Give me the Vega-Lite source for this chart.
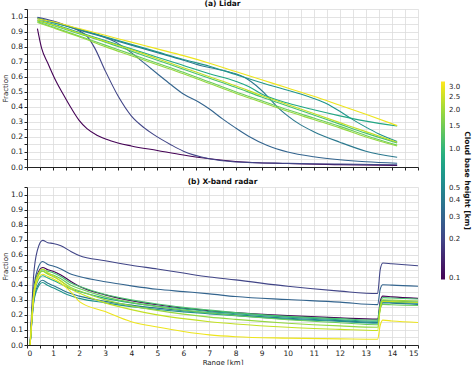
{
  "$schema": "https://vega.github.io/schema/vega-lite/v6.json",
  "padding": {"left": 1, "top": 0, "right": 0, "bottom": 0},
  "config": {
    "font": "DejaVu Sans",
    "view": {"stroke": null},
    "axis": {"labelFontSize": 7.5, "titleFontSize": 7, "titleFontWeight": "normal", "labelColor": "#222", "titleColor": "#222", "tickColor": "#222", "domainColor": "#222", "gridColor": "#dcdcdc", "gridWidth": 0.8, "tickSize": 3, "labelPadding": 1.5},
    "title": {"fontSize": 7.5, "fontWeight": "bold", "anchor": "middle", "offset": 1, "color": "#111"},
    "line": {"strokeWidth": 1.1, "interpolate": "monotone"}
  },
  "datasets": {
    "lidar": [
      {"h":0.1,"r":0.4,"f":0.92},{"h":0.1,"r":0.56,"f":0.79},{"h":0.1,"r":0.8,"f":0.69},{"h":0.1,"r":1.1,"f":0.575},{"h":0.1,"r":1.4,"f":0.48},{"h":0.1,"r":1.7,"f":0.39},{"h":0.1,"r":2.0,"f":0.31},{"h":0.1,"r":2.3,"f":0.255},{"h":0.1,"r":2.7,"f":0.21},{"h":0.1,"r":3.2,"f":0.175},{"h":0.1,"r":4,"f":0.14},{"h":0.1,"r":5,"f":0.11},{"h":0.1,"r":6,"f":0.08},{"h":0.1,"r":7,"f":0.055},{"h":0.1,"r":8,"f":0.037},{"h":0.1,"r":10,"f":0.023},{"h":0.1,"r":12,"f":0.016},{"h":0.1,"r":14.2,"f":0.01},
      {"h":0.2,"r":0.4,"f":0.995},{"h":0.2,"r":1,"f":0.97},{"h":0.2,"r":1.5,"f":0.94},{"h":0.2,"r":2,"f":0.905},{"h":0.2,"r":2.3,"f":0.87},{"h":0.2,"r":2.6,"f":0.79},{"h":0.2,"r":3,"f":0.64},{"h":0.2,"r":3.5,"f":0.47},{"h":0.2,"r":4,"f":0.34},{"h":0.2,"r":4.5,"f":0.26},{"h":0.2,"r":5,"f":0.2},{"h":0.2,"r":5.5,"f":0.15},{"h":0.2,"r":6,"f":0.105},{"h":0.2,"r":7,"f":0.055},{"h":0.2,"r":8,"f":0.033},{"h":0.2,"r":10,"f":0.024},{"h":0.2,"r":12,"f":0.019},{"h":0.2,"r":14.2,"f":0.015},
      {"h":0.3,"r":0.4,"f":0.99},{"h":0.3,"r":1,"f":0.965},{"h":0.3,"r":2,"f":0.915},{"h":0.3,"r":3,"f":0.86},{"h":0.3,"r":3.5,"f":0.82},{"h":0.3,"r":4,"f":0.76},{"h":0.3,"r":4.5,"f":0.69},{"h":0.3,"r":5,"f":0.62},{"h":0.3,"r":5.5,"f":0.55},{"h":0.3,"r":6,"f":0.485},{"h":0.3,"r":6.6,"f":0.43},{"h":0.3,"r":7,"f":0.385},{"h":0.3,"r":7.5,"f":0.32},{"h":0.3,"r":8,"f":0.26},{"h":0.3,"r":8.5,"f":0.205},{"h":0.3,"r":9.2,"f":0.145},{"h":0.3,"r":10,"f":0.1},{"h":0.3,"r":11,"f":0.068},{"h":0.3,"r":12,"f":0.048},{"h":0.3,"r":13,"f":0.035},{"h":0.3,"r":14.2,"f":0.025},
      {"h":0.4,"r":0.4,"f":0.985},{"h":0.4,"r":1,"f":0.96},{"h":0.4,"r":2,"f":0.91},{"h":0.4,"r":3,"f":0.86},{"h":0.4,"r":4,"f":0.81},{"h":0.4,"r":5,"f":0.76},{"h":0.4,"r":6,"f":0.71},{"h":0.4,"r":6.65,"f":0.675},{"h":0.4,"r":7.3,"f":0.65},{"h":0.4,"r":7.9,"f":0.625},{"h":0.4,"r":8.4,"f":0.59},{"h":0.4,"r":8.8,"f":0.54},{"h":0.4,"r":9.2,"f":0.475},{"h":0.4,"r":9.6,"f":0.4},{"h":0.4,"r":10,"f":0.34},{"h":0.4,"r":10.5,"f":0.28},{"h":0.4,"r":11,"f":0.235},{"h":0.4,"r":12,"f":0.165},{"h":0.4,"r":13,"f":0.105},{"h":0.4,"r":14.2,"f":0.065},
      {"h":0.6,"r":0.4,"f":0.99},{"h":0.6,"r":1,"f":0.96},{"h":0.6,"r":2,"f":0.915},{"h":0.6,"r":3,"f":0.865},{"h":0.6,"r":4,"f":0.815},{"h":0.6,"r":5,"f":0.765},{"h":0.6,"r":6,"f":0.715},{"h":0.6,"r":7,"f":0.67},{"h":0.6,"r":8,"f":0.615},{"h":0.6,"r":9,"f":0.56},{"h":0.6,"r":10,"f":0.51},{"h":0.6,"r":10.5,"f":0.485},{"h":0.6,"r":11,"f":0.455},{"h":0.6,"r":11.5,"f":0.42},{"h":0.6,"r":12,"f":0.37},{"h":0.6,"r":12.5,"f":0.315},{"h":0.6,"r":13,"f":0.265},{"h":0.6,"r":13.5,"f":0.22},{"h":0.6,"r":14.2,"f":0.17},
      {"h":0.8,"r":0.4,"f":0.975},{"h":0.8,"r":1,"f":0.95},{"h":0.8,"r":2,"f":0.895},{"h":0.8,"r":3,"f":0.84},{"h":0.8,"r":4,"f":0.785},{"h":0.8,"r":5,"f":0.73},{"h":0.8,"r":6,"f":0.675},{"h":0.8,"r":7,"f":0.62},{"h":0.8,"r":8,"f":0.57},{"h":0.8,"r":8.5,"f":0.535},{"h":0.8,"r":9,"f":0.485},{"h":0.8,"r":10,"f":0.425},{"h":0.8,"r":11,"f":0.38},{"h":0.8,"r":12,"f":0.34},{"h":0.8,"r":13,"f":0.305},{"h":0.8,"r":14.2,"f":0.272},
      {"h":1.2,"r":0.4,"f":0.97},{"h":1.2,"r":1,"f":0.94},{"h":1.2,"r":2,"f":0.885},{"h":1.2,"r":3,"f":0.83},{"h":1.2,"r":4,"f":0.77},{"h":1.2,"r":5,"f":0.71},{"h":1.2,"r":6,"f":0.65},{"h":1.2,"r":7,"f":0.59},{"h":1.2,"r":8,"f":0.53},{"h":1.2,"r":9,"f":0.465},{"h":1.2,"r":10,"f":0.405},{"h":1.2,"r":11,"f":0.345},{"h":1.2,"r":12,"f":0.285},{"h":1.2,"r":13,"f":0.225},{"h":1.2,"r":14.2,"f":0.16},
      {"h":1.5,"r":0.4,"f":0.965},{"h":1.5,"r":1,"f":0.93},{"h":1.5,"r":2,"f":0.87},{"h":1.5,"r":3,"f":0.81},{"h":1.5,"r":4,"f":0.75},{"h":1.5,"r":5,"f":0.69},{"h":1.5,"r":6,"f":0.63},{"h":1.5,"r":7,"f":0.565},{"h":1.5,"r":8,"f":0.5},{"h":1.5,"r":9,"f":0.44},{"h":1.5,"r":10,"f":0.38},{"h":1.5,"r":11,"f":0.325},{"h":1.5,"r":12,"f":0.27},{"h":1.5,"r":13,"f":0.21},{"h":1.5,"r":14.2,"f":0.145},
      {"h":1.9,"r":0.4,"f":0.96},{"h":1.9,"r":1,"f":0.925},{"h":1.9,"r":2,"f":0.865},{"h":1.9,"r":3,"f":0.8},{"h":1.9,"r":4,"f":0.74},{"h":1.9,"r":5,"f":0.68},{"h":1.9,"r":6,"f":0.62},{"h":1.9,"r":7,"f":0.555},{"h":1.9,"r":8,"f":0.49},{"h":1.9,"r":9,"f":0.43},{"h":1.9,"r":10,"f":0.37},{"h":1.9,"r":11,"f":0.315},{"h":1.9,"r":12,"f":0.26},{"h":1.9,"r":13,"f":0.2},{"h":1.9,"r":14.2,"f":0.14},
      {"h":2.4,"r":0.4,"f":0.975},{"h":2.4,"r":1,"f":0.945},{"h":2.4,"r":2,"f":0.89},{"h":2.4,"r":3,"f":0.835},{"h":2.4,"r":4,"f":0.78},{"h":2.4,"r":5,"f":0.72},{"h":2.4,"r":6,"f":0.66},{"h":2.4,"r":7,"f":0.6},{"h":2.4,"r":8,"f":0.54},{"h":2.4,"r":9,"f":0.475},{"h":2.4,"r":10,"f":0.415},{"h":2.4,"r":11,"f":0.355},{"h":2.4,"r":12,"f":0.295},{"h":2.4,"r":13,"f":0.235},{"h":2.4,"r":14.2,"f":0.165},
      {"h":3.0,"r":0.4,"f":0.985},{"h":3.0,"r":1,"f":0.965},{"h":3.0,"r":2,"f":0.92},{"h":3.0,"r":3,"f":0.875},{"h":3.0,"r":4,"f":0.83},{"h":3.0,"r":5,"f":0.785},{"h":3.0,"r":6,"f":0.74},{"h":3.0,"r":7,"f":0.69},{"h":3.0,"r":8,"f":0.635},{"h":3.0,"r":9,"f":0.58},{"h":3.0,"r":10,"f":0.525},{"h":3.0,"r":11,"f":0.47},{"h":3.0,"r":12,"f":0.41},{"h":3.0,"r":13,"f":0.35},{"h":3.0,"r":14.2,"f":0.275}
    ],
    "radar": [
      {"h":0.2,"r":0.12,"f":0},{"h":0.2,"r":0.25,"f":0.45},{"h":0.2,"r":0.4,"f":0.63},{"h":0.2,"r":0.6,"f":0.695},{"h":0.2,"r":0.8,"f":0.68},{"h":0.2,"r":1.0,"f":0.675},{"h":0.2,"r":1.3,"f":0.66},{"h":0.2,"r":1.7,"f":0.62},{"h":0.2,"r":2,"f":0.595},{"h":0.2,"r":3,"f":0.56},{"h":0.2,"r":4,"f":0.53},{"h":0.2,"r":5,"f":0.505},{"h":0.2,"r":6,"f":0.478},{"h":0.2,"r":7,"f":0.452},{"h":0.2,"r":8,"f":0.433},{"h":0.2,"r":10,"f":0.39},{"h":0.2,"r":12,"f":0.358},{"h":0.2,"r":13.45,"f":0.342},{"h":0.2,"r":13.55,"f":0.5},{"h":0.2,"r":13.65,"f":0.545},{"h":0.2,"r":14,"f":0.54},{"h":0.2,"r":15,"f":0.527},
      {"h":0.3,"r":0.12,"f":0},{"h":0.3,"r":0.25,"f":0.36},{"h":0.3,"r":0.4,"f":0.5},{"h":0.3,"r":0.6,"f":0.555},{"h":0.3,"r":0.8,"f":0.535},{"h":0.3,"r":1.0,"f":0.525},{"h":0.3,"r":1.3,"f":0.505},{"h":0.3,"r":1.7,"f":0.47},{"h":0.3,"r":2,"f":0.455},{"h":0.3,"r":3,"f":0.42},{"h":0.3,"r":4,"f":0.393},{"h":0.3,"r":5,"f":0.37},{"h":0.3,"r":6,"f":0.355},{"h":0.3,"r":7,"f":0.34},{"h":0.3,"r":8,"f":0.322},{"h":0.3,"r":10,"f":0.302},{"h":0.3,"r":12,"f":0.285},{"h":0.3,"r":13.45,"f":0.268},{"h":0.3,"r":13.55,"f":0.37},{"h":0.3,"r":13.65,"f":0.4},{"h":0.3,"r":14,"f":0.398},{"h":0.3,"r":15,"f":0.39},
      {"h":0.1,"r":0.12,"f":0},{"h":0.1,"r":0.25,"f":0.33},{"h":0.1,"r":0.4,"f":0.47},{"h":0.1,"r":0.6,"f":0.515},{"h":0.1,"r":0.8,"f":0.5},{"h":0.1,"r":1.0,"f":0.49},{"h":0.1,"r":1.3,"f":0.465},{"h":0.1,"r":1.7,"f":0.42},{"h":0.1,"r":2,"f":0.39},{"h":0.1,"r":3,"f":0.333},{"h":0.1,"r":4,"f":0.295},{"h":0.1,"r":5,"f":0.267},{"h":0.1,"r":6,"f":0.245},{"h":0.1,"r":7,"f":0.228},{"h":0.1,"r":8,"f":0.215},{"h":0.1,"r":10,"f":0.195},{"h":0.1,"r":12,"f":0.18},{"h":0.1,"r":13.45,"f":0.172},{"h":0.1,"r":13.55,"f":0.29},{"h":0.1,"r":13.65,"f":0.325},{"h":0.1,"r":14,"f":0.32},{"h":0.1,"r":15,"f":0.31},
      {"h":0.4,"r":0.12,"f":0},{"h":0.4,"r":0.25,"f":0.28},{"h":0.4,"r":0.4,"f":0.39},{"h":0.4,"r":0.6,"f":0.43},{"h":0.4,"r":0.8,"f":0.41},{"h":0.4,"r":1.0,"f":0.395},{"h":0.4,"r":1.3,"f":0.37},{"h":0.4,"r":1.7,"f":0.34},{"h":0.4,"r":2,"f":0.325},{"h":0.4,"r":3,"f":0.29},{"h":0.4,"r":4,"f":0.265},{"h":0.4,"r":5,"f":0.245},{"h":0.4,"r":6,"f":0.228},{"h":0.4,"r":7,"f":0.214},{"h":0.4,"r":8,"f":0.2},{"h":0.4,"r":10,"f":0.178},{"h":0.4,"r":12,"f":0.162},{"h":0.4,"r":13.45,"f":0.15},{"h":0.4,"r":13.55,"f":0.25},{"h":0.4,"r":13.65,"f":0.28},{"h":0.4,"r":14,"f":0.278},{"h":0.4,"r":15,"f":0.27},
      {"h":0.6,"r":0.12,"f":0},{"h":0.6,"r":0.25,"f":0.27},{"h":0.6,"r":0.4,"f":0.375},{"h":0.6,"r":0.6,"f":0.415},{"h":0.6,"r":0.8,"f":0.395},{"h":0.6,"r":1.0,"f":0.38},{"h":0.6,"r":1.3,"f":0.355},{"h":0.6,"r":1.7,"f":0.325},{"h":0.6,"r":2,"f":0.31},{"h":0.6,"r":3,"f":0.28},{"h":0.6,"r":4,"f":0.255},{"h":0.6,"r":5,"f":0.236},{"h":0.6,"r":6,"f":0.22},{"h":0.6,"r":7,"f":0.207},{"h":0.6,"r":8,"f":0.195},{"h":0.6,"r":10,"f":0.172},{"h":0.6,"r":12,"f":0.157},{"h":0.6,"r":13.45,"f":0.145},{"h":0.6,"r":13.55,"f":0.245},{"h":0.6,"r":13.65,"f":0.285},{"h":0.6,"r":14,"f":0.283},{"h":0.6,"r":15,"f":0.278},
      {"h":0.8,"r":0.12,"f":0},{"h":0.8,"r":0.25,"f":0.3},{"h":0.8,"r":0.4,"f":0.42},{"h":0.8,"r":0.6,"f":0.46},{"h":0.8,"r":0.8,"f":0.445},{"h":0.8,"r":1.0,"f":0.43},{"h":0.8,"r":1.3,"f":0.405},{"h":0.8,"r":1.7,"f":0.37},{"h":0.8,"r":2,"f":0.355},{"h":0.8,"r":3,"f":0.31},{"h":0.8,"r":4,"f":0.28},{"h":0.8,"r":5,"f":0.258},{"h":0.8,"r":6,"f":0.24},{"h":0.8,"r":7,"f":0.222},{"h":0.8,"r":8,"f":0.208},{"h":0.8,"r":10,"f":0.185},{"h":0.8,"r":12,"f":0.168},{"h":0.8,"r":13.45,"f":0.158},{"h":0.8,"r":13.55,"f":0.26},{"h":0.8,"r":13.65,"f":0.295},{"h":0.8,"r":14,"f":0.292},{"h":0.8,"r":15,"f":0.286},
      {"h":1.2,"r":0.12,"f":0},{"h":1.2,"r":0.25,"f":0.33},{"h":1.2,"r":0.4,"f":0.46},{"h":1.2,"r":0.6,"f":0.5},{"h":1.2,"r":0.8,"f":0.49},{"h":1.2,"r":1.0,"f":0.48},{"h":1.2,"r":1.3,"f":0.455},{"h":1.2,"r":1.7,"f":0.41},{"h":1.2,"r":2,"f":0.39},{"h":1.2,"r":3,"f":0.335},{"h":1.2,"r":4,"f":0.3},{"h":1.2,"r":5,"f":0.272},{"h":1.2,"r":6,"f":0.25},{"h":1.2,"r":7,"f":0.232},{"h":1.2,"r":8,"f":0.215},{"h":1.2,"r":10,"f":0.19},{"h":1.2,"r":12,"f":0.175},{"h":1.2,"r":13.45,"f":0.165},{"h":1.2,"r":13.55,"f":0.27},{"h":1.2,"r":13.65,"f":0.315},{"h":1.2,"r":14,"f":0.312},{"h":1.2,"r":15,"f":0.306},
      {"h":1.5,"r":0.12,"f":0},{"h":1.5,"r":0.25,"f":0.32},{"h":1.5,"r":0.4,"f":0.45},{"h":1.5,"r":0.6,"f":0.49},{"h":1.5,"r":0.8,"f":0.475},{"h":1.5,"r":1.0,"f":0.465},{"h":1.5,"r":1.3,"f":0.44},{"h":1.5,"r":1.7,"f":0.395},{"h":1.5,"r":2,"f":0.375},{"h":1.5,"r":3,"f":0.32},{"h":1.5,"r":4,"f":0.283},{"h":1.5,"r":5,"f":0.255},{"h":1.5,"r":6,"f":0.232},{"h":1.5,"r":7,"f":0.213},{"h":1.5,"r":8,"f":0.196},{"h":1.5,"r":10,"f":0.168},{"h":1.5,"r":12,"f":0.148},{"h":1.5,"r":13.45,"f":0.135},{"h":1.5,"r":13.55,"f":0.24},{"h":1.5,"r":13.65,"f":0.27},{"h":1.5,"r":14,"f":0.267},{"h":1.5,"r":15,"f":0.262},
      {"h":1.9,"r":0.12,"f":0},{"h":1.9,"r":0.25,"f":0.32},{"h":1.9,"r":0.4,"f":0.45},{"h":1.9,"r":0.6,"f":0.49},{"h":1.9,"r":0.8,"f":0.47},{"h":1.9,"r":1.0,"f":0.455},{"h":1.9,"r":1.3,"f":0.425},{"h":1.9,"r":1.7,"f":0.38},{"h":1.9,"r":2,"f":0.36},{"h":1.9,"r":3,"f":0.3},{"h":1.9,"r":4,"f":0.26},{"h":1.9,"r":5,"f":0.23},{"h":1.9,"r":6,"f":0.205},{"h":1.9,"r":7,"f":0.185},{"h":1.9,"r":8,"f":0.17},{"h":1.9,"r":10,"f":0.145},{"h":1.9,"r":12,"f":0.127},{"h":1.9,"r":13.45,"f":0.118},{"h":1.9,"r":13.55,"f":0.25},{"h":1.9,"r":13.65,"f":0.3},{"h":1.9,"r":14,"f":0.298},{"h":1.9,"r":15,"f":0.292},
      {"h":2.4,"r":0.12,"f":0},{"h":2.4,"r":0.25,"f":0.33},{"h":2.4,"r":0.4,"f":0.46},{"h":2.4,"r":0.6,"f":0.505},{"h":2.4,"r":0.8,"f":0.48},{"h":2.4,"r":1.0,"f":0.46},{"h":2.4,"r":1.3,"f":0.425},{"h":2.4,"r":1.7,"f":0.37},{"h":2.4,"r":2,"f":0.345},{"h":2.4,"r":3,"f":0.28},{"h":2.4,"r":4,"f":0.235},{"h":2.4,"r":5,"f":0.2},{"h":2.4,"r":6,"f":0.175},{"h":2.4,"r":7,"f":0.155},{"h":2.4,"r":8,"f":0.14},{"h":2.4,"r":10,"f":0.118},{"h":2.4,"r":12,"f":0.104},{"h":2.4,"r":13.45,"f":0.096},{"h":2.4,"r":13.55,"f":0.24},{"h":2.4,"r":13.65,"f":0.29},{"h":2.4,"r":14,"f":0.288},{"h":2.4,"r":15,"f":0.282},
      {"h":3.0,"r":0.12,"f":0},{"h":3.0,"r":0.25,"f":0.3},{"h":3.0,"r":0.4,"f":0.43},{"h":3.0,"r":0.6,"f":0.47},{"h":3.0,"r":0.8,"f":0.455},{"h":3.0,"r":1.0,"f":0.44},{"h":3.0,"r":1.3,"f":0.41},{"h":3.0,"r":1.7,"f":0.35},{"h":3.0,"r":2,"f":0.29},{"h":3.0,"r":3,"f":0.222},{"h":3.0,"r":4,"f":0.155},{"h":3.0,"r":5,"f":0.12},{"h":3.0,"r":6,"f":0.09},{"h":3.0,"r":7,"f":0.067},{"h":3.0,"r":8,"f":0.055},{"h":3.0,"r":10,"f":0.046},{"h":3.0,"r":12,"f":0.041},{"h":3.0,"r":13.45,"f":0.038},{"h":3.0,"r":13.55,"f":0.13},{"h":3.0,"r":13.65,"f":0.165},{"h":3.0,"r":14,"f":0.16},{"h":3.0,"r":15,"f":0.15}
    ]
  },
  "vconcat": [
    {
      "title": "(a) Lidar",
      "width": 391,
      "height": 158,
      "data": {"name": "lidar"},
      "mark": {"type": "line", "clip": true},
      "encoding": {
        "x": {"field": "r", "type": "quantitative", "scale": {"domain": [0, 15], "nice": false, "zero": false},
              "axis": {"title": null, "labels": false, "values": [0,0.5,1,1.5,2,2.5,3,3.5,4,4.5,5,5.5,6,6.5,7,7.5,8,8.5,9,9.5,10,10.5,11,11.5,12,12.5,13,13.5,14,14.5,15]}},
        "y": {"field": "f", "type": "quantitative", "scale": {"domain": [0, 1.05], "nice": false},
              "axis": {"title": "Fraction", "titlePadding": 2, "values": [0,0.05,0.1,0.15,0.2,0.25,0.3,0.35,0.4,0.45,0.5,0.55,0.6,0.65,0.7,0.75,0.8,0.85,0.9,0.95,1.0,1.05],
                       "labelExpr": "round(datum.value*100) % 10 == 0 && datum.value <= 1 ? format(datum.value, '.1f') : ''"}},
        "color": {"field": "h", "type": "quantitative", "scale": {"type": "log", "domain": [0.098, 3.3], "scheme": "viridis"},
                  "legend": {"title": "Cloud base height [km]", "orient": "none", "legendX": 414, "legendY": 72.5, "direction": "vertical", "gradientLength": 198, "gradientThickness": 4, "gradientStrokeWidth": 0,
                             "values": [0.1,0.2,0.3,0.4,0.5,1,1.5,2,2.5,3], "format": ".1f", "labelOverlap": false, "labelBaseline": "middle", "labelFontSize": 7, "labelColor": "#222", "labelOffset": 4,
                             "titleFontSize": 7.5, "titleFontWeight": "bold", "titleColor": "#111", "titleOrient": "right", "titleAngle": 270, "titleAnchor": "middle", "titlePadding": 3}},
        "detail": {"field": "h", "type": "nominal"}
      }
    },
    {
      "title": "(b) X-band radar",
      "width": 391,
      "height": 158,
      "data": {"name": "radar"},
      "mark": {"type": "line", "clip": true},
      "encoding": {
        "x": {"field": "r", "type": "quantitative", "scale": {"domain": [0, 15], "nice": false, "zero": false},
              "axis": {"title": "Range [km]", "titlePadding": 1, "values": [0,0.5,1,1.5,2,2.5,3,3.5,4,4.5,5,5.5,6,6.5,7,7.5,8,8.5,9,9.5,10,10.5,11,11.5,12,12.5,13,13.5,14,14.5,15],
                       "labelExpr": "round(datum.value*10) % 10 == 0 ? format(datum.value, 'd') : ''"}},
        "y": {"field": "f", "type": "quantitative", "scale": {"domain": [0, 1.05], "nice": false},
              "axis": {"title": "Fraction", "titlePadding": 2, "values": [0,0.05,0.1,0.15,0.2,0.25,0.3,0.35,0.4,0.45,0.5,0.55,0.6,0.65,0.7,0.75,0.8,0.85,0.9,0.95,1.0,1.05],
                       "labelExpr": "round(datum.value*100) % 10 == 0 && datum.value <= 1 ? format(datum.value, '.1f') : ''"}},
        "color": {"field": "h", "type": "quantitative", "scale": {"type": "log", "domain": [0.098, 3.3], "scheme": "viridis"},
                  "legend": {"title": "Cloud base height [km]", "orient": "none", "legendX": 414, "legendY": 72.5, "direction": "vertical", "gradientLength": 198, "gradientThickness": 4, "gradientStrokeWidth": 0,
                             "values": [0.1,0.2,0.3,0.4,0.5,1,1.5,2,2.5,3], "format": ".1f", "labelOverlap": false, "labelBaseline": "middle", "labelFontSize": 7, "labelColor": "#222", "labelOffset": 4,
                             "titleFontSize": 7.5, "titleFontWeight": "bold", "titleColor": "#111", "titleOrient": "right", "titleAngle": 270, "titleAnchor": "middle", "titlePadding": 3}},
        "detail": {"field": "h", "type": "nominal"}
      }
    }
  ],
  "spacing": 7,
  "resolve": {"scale": {"color": "shared"}}
}
